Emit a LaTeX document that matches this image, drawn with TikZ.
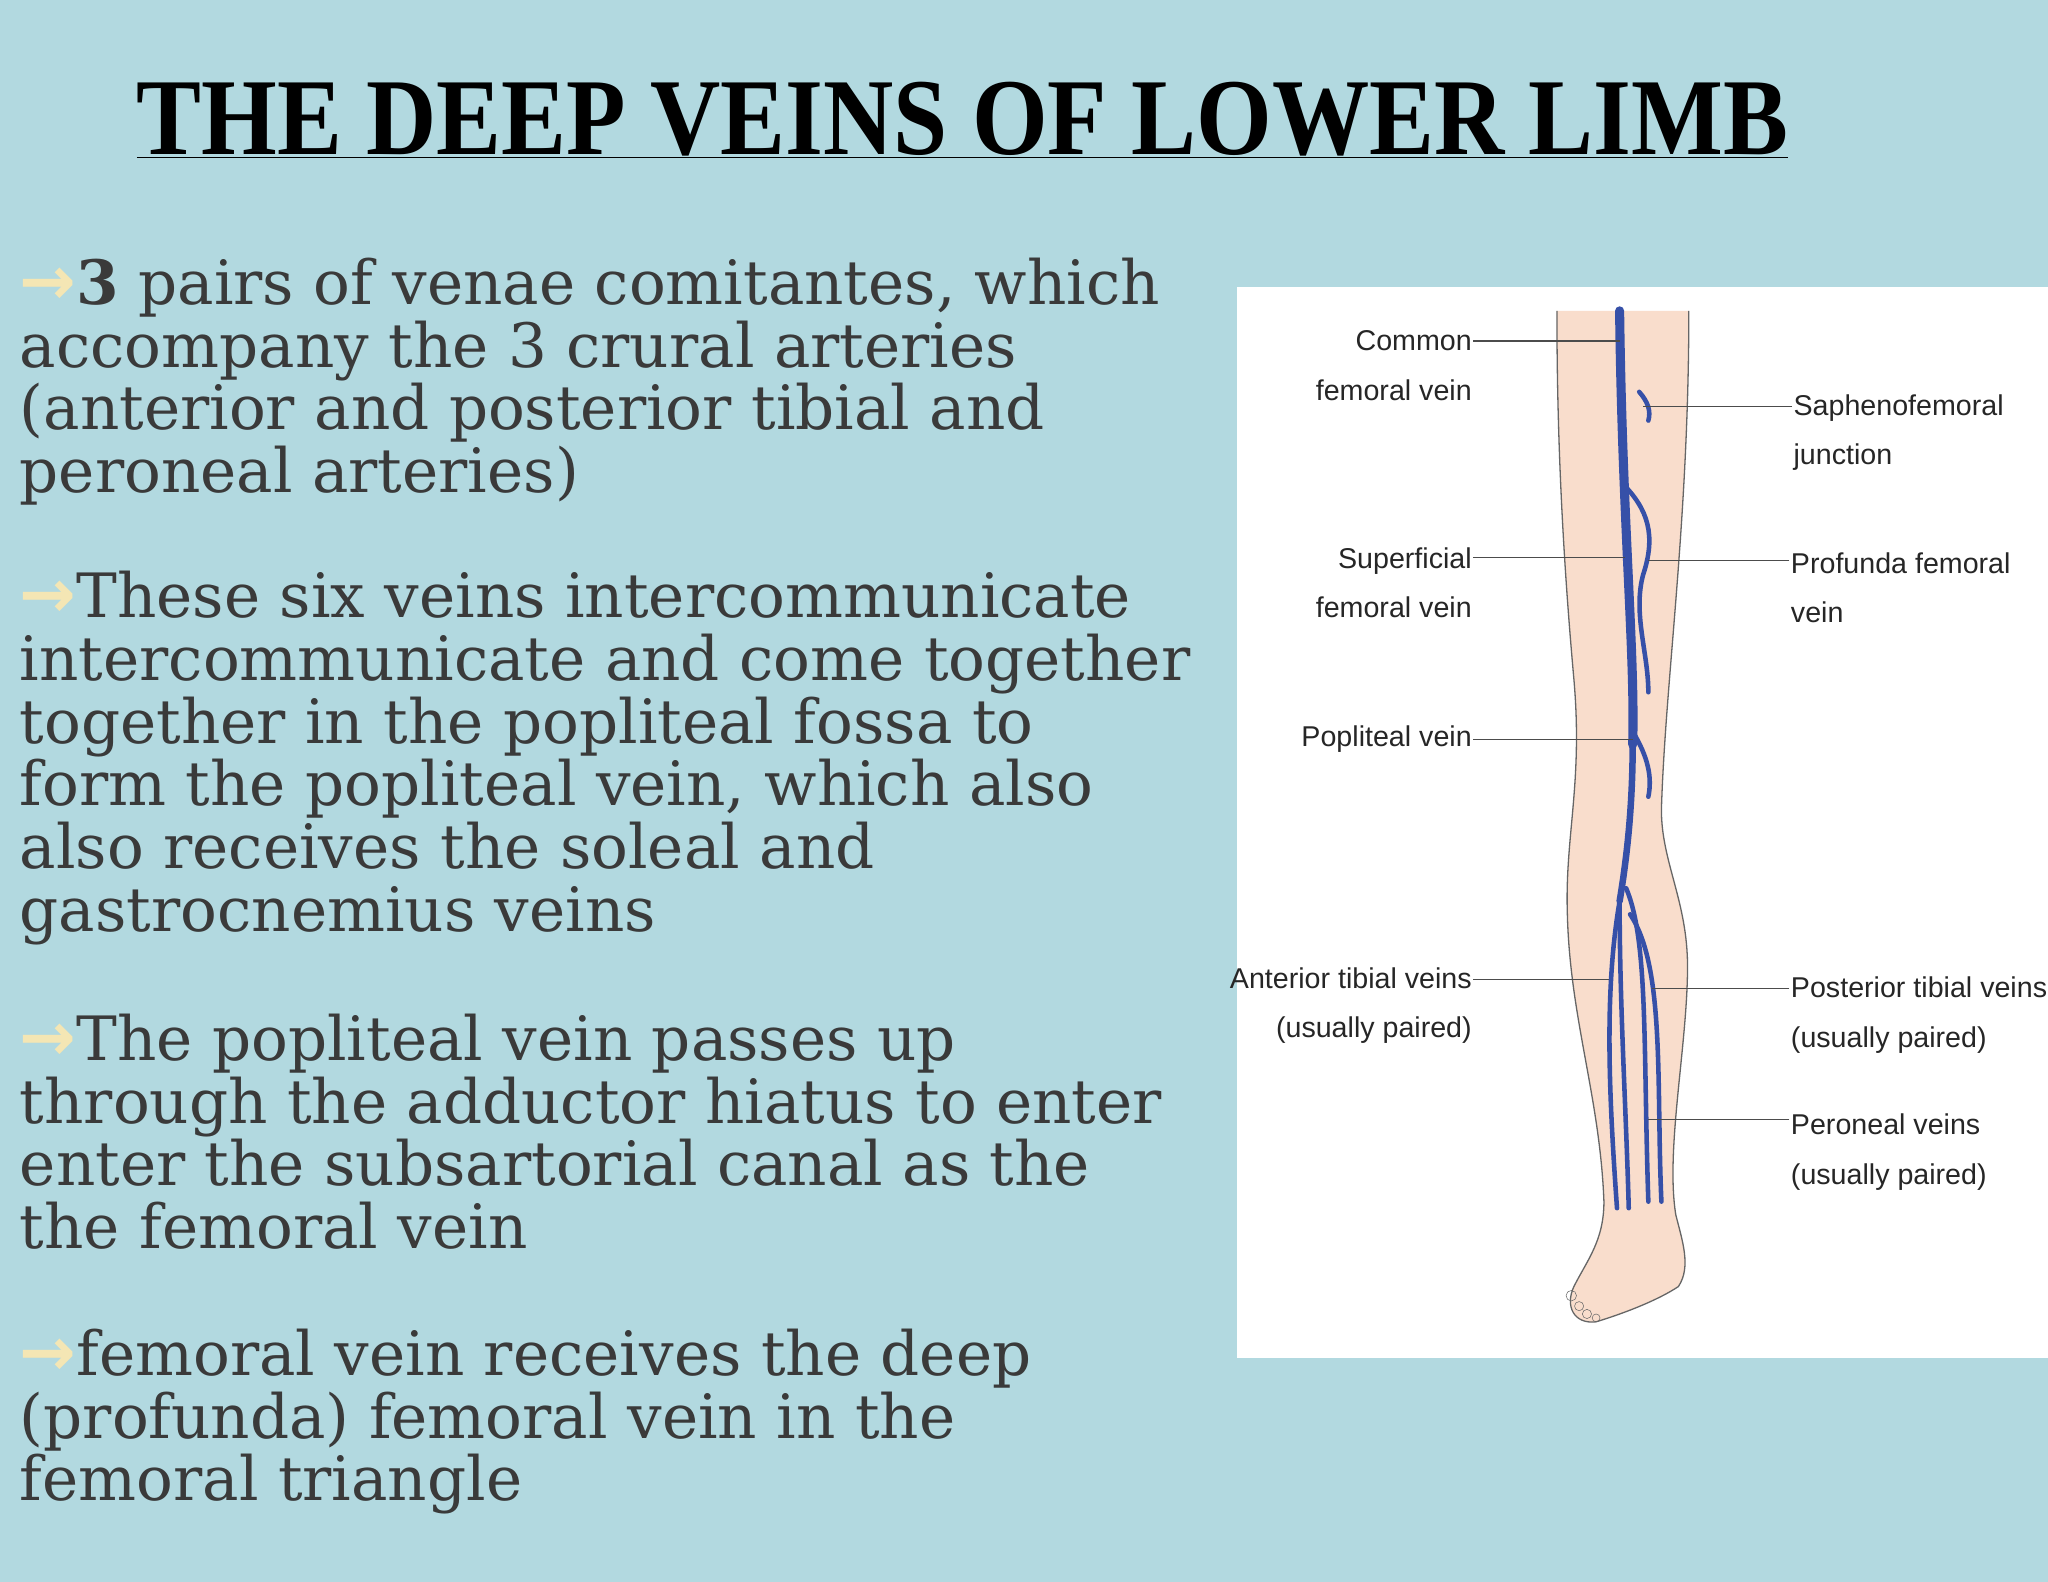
\documentclass[tikz,border=0pt]{standalone}
\usepackage{fontspec}
\setmainfont{DejaVu Serif}
\newfontfamily\titlefont{Liberation Serif}
\newfontfamily\labfont{Liberation Sans}
\newfontfamily\symfont{DejaVu Sans}
\definecolor{bg}{HTML}{B2D9E0}
\definecolor{txt}{HTML}{3A3A3A}
\definecolor{arr}{HTML}{F4E6B4}
\definecolor{skin}{HTML}{F9DDCC}
\definecolor{vein}{HTML}{3650A8}
\begin{document}
\begin{tikzpicture}[x=1bp,y=-1bp,
  body/.style={anchor=base west,text=txt,font=\fontsize{47}{48}\selectfont,inner sep=0},
  lab/.style={font=\labfont\fontsize{22}{38}\selectfont,inner sep=1,align=left,text=black!85},
  labr/.style={lab,align=right},
  lead/.style={draw=black!70,line width=1},
  veinl/.style={draw=vein,line width=3.5,line cap=round}]
\fill[bg] (0,0) rectangle (1568,1211);
\useasboundingbox (0,0) rectangle (1568,1211);
\node[anchor=center,inner sep=0] (title) at (737,92) {\scalebox{0.89}[1]{\titlefont\bfseries\fontsize{84}{84}\selectfont\underline{THE DEEP VEINS OF LOWER LIMB}}};
\newcommand\ar{{\symfont\bfseries\fontsize{52}{52}\selectfont\color{arr}→}}
\node[body] (p1a) at (15,233) {\ar\textbf{3} pairs of venae comitantes, which};
\node[body] (p1b) at (15,281) {accompany the 3 crural arteries};
\node[body] (p1c) at (15,329) {(anterior and posterior tibial and};
\node[body] (p1d) at (15,377) {peroneal arteries)};
\node[body] (p2a) at (15,473) {\ar These six veins intercommunicate};
\node[body] (p2b) at (15,521) {intercommunicate and come together};
\node[body] (p2c) at (15,569) {together in the popliteal fossa to};
\node[body] (p2d) at (15,617) {form the popliteal vein, which also};
\node[body] (p2e) at (15,665) {also receives the soleal and};
\node[body] (p2f) at (15,713) {gastrocnemius veins};
\node[body] (p3a) at (15,812) {\ar The popliteal vein passes up};
\node[body] (p3b) at (15,860) {through the adductor hiatus to enter};
\node[body] (p3c) at (15,908) {enter the subsartorial canal as the};
\node[body] (p3d) at (15,956) {the femoral vein};
\node[body] (p4a) at (15,1053) {\ar femoral vein receives the deep};
\node[body] (p4b) at (15,1101) {(profunda) femoral vein in the};
\node[body] (p4c) at (15,1149) {femoral triangle};
% panel
\fill[white] (947,220) rectangle (1568,1040);
% leg
\filldraw[fill=skin,draw=black!60,line width=1]
 (1192,238) .. controls (1192,330) and (1196,420) .. (1205,520)
 .. controls (1212,600) and (1198,640) .. (1200,700)
 .. controls (1202,780) and (1225,840) .. (1228,920)
 .. controls (1228,950) and (1215,965) .. (1205,985)
 .. controls (1198,1000) and (1205,1014) .. (1222,1012)
 .. controls (1245,1005) and (1270,995) .. (1285,985)
 .. controls (1295,970) and (1288,950) .. (1283,930)
 .. controls (1275,880) and (1292,800) .. (1292,740)
 .. controls (1292,690) and (1272,660) .. (1272,620)
 .. controls (1275,520) and (1293,400) .. (1293,238);
\draw[black!60] (1203,992) circle (4) (1209,1000) circle (3.5) (1215,1006) circle (3.5) (1222,1009) circle (3);
% veins
\draw[veinl,line width=7] (1240,238) .. controls (1242,400) and (1252,500) .. (1250,570) coordinate (pop);
\draw[veinl] (1255,300) .. controls (1262,308) and (1264,315) .. (1262,322);
\draw[veinl] (1242,370) .. controls (1262,390) and (1268,410) .. (1258,440) .. controls (1250,470) and (1262,500) .. (1262,530);
\draw[veinl] (1250,560) .. controls (1262,580) and (1265,595) .. (1262,610);
\draw[veinl,line width=5] (1250,570) .. controls (1250,620) and (1245,660) .. (1240,690);
\draw[veinl] (1240,690) .. controls (1228,760) and (1232,840) .. (1238,925);
\draw[veinl] (1240,690) .. controls (1240,770) and (1245,850) .. (1247,925);
\draw[veinl] (1245,680) .. controls (1262,720) and (1258,800) .. (1262,920);
\draw[veinl] (1248,700) .. controls (1275,740) and (1268,830) .. (1272,920);
% labels
\node[labr,anchor=east] (cfv) at (1128,280) {Common\\femoral vein};
\node[labr,anchor=east] (sfv) at (1128,446) {Superficial\\femoral vein};
\node[labr,anchor=east] (pv) at (1128,566) {Popliteal vein};
\node[labr,anchor=east] (atv) at (1128,770) {Anterior tibial veins\\(usually paired)};
\node[lab,anchor=west] (sfj) at (1372,331) {Saphenofemoral\\junction};
\node[lab,anchor=west] (pfv) at (1370,450) {Profunda femoral\\vein};
\node[lab,anchor=west] (ptv) at (1370,777) {Posterior tibial veins\\(usually paired)};
\node[lab,anchor=west] (prv) at (1370,882) {Peroneal veins\\(usually paired)};
\coordinate (c1) at (1240,261); \coordinate (c2) at (1244,427);
\coordinate (c3) at (1250,566); \coordinate (c4) at (1232,750);
\coordinate (c5) at (1258,311); \coordinate (c6) at (1262,429);
\coordinate (c7) at (1265,757); \coordinate (c8) at (1262,857);
\draw[lead] (1128,261) -- (c1);
\draw[lead] (1128,427) -- (c2);
\draw[lead] (pv.east) -- (c3);
\draw[lead] (1128,750) -- (c4);
\draw[lead] (1372,311) -- (c5);
\draw[lead] (1370,429) -- (c6);
\draw[lead] (1370,757) -- (c7);
\draw[lead] (1370,857) -- (c8);
\end{tikzpicture}
\end{document}
